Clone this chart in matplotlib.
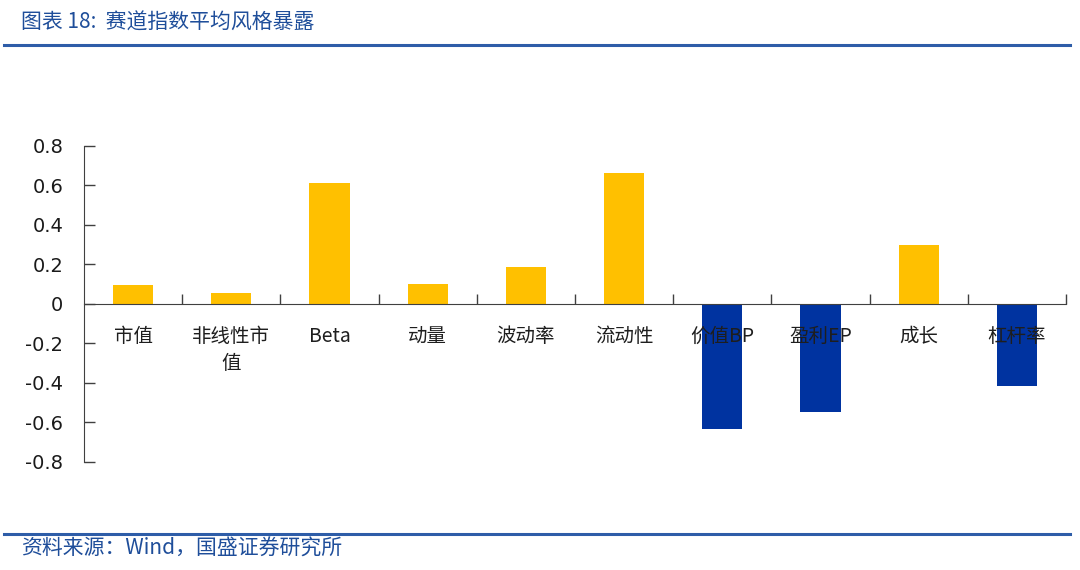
import matplotlib.pyplot as plt
import numpy as np

plt.rcParams['font.family'] = ['Noto Sans CJK SC', 'DejaVu Sans']

# 风格因子 & 平均暴露
categories = ['市值', '非线性市\n值', 'Beta', '动量', '波动率', '流动性', '价值BP', '盈利EP', '成长', '杠杆率']
exposure = [0.096, 0.057, 0.611, 0.101, 0.189, 0.662, -0.635, -0.547, 0.297, -0.414]
y_ticks = [0.8, 0.6, 0.4, 0.2, 0, -0.2, -0.4, -0.6, -0.8]
y_tick_labels = ['0.8', '0.6', '0.4', '0.2', '0', '-0.2', '-0.4', '-0.6', '-0.8']

yellow = '#FFC000'
blue = '#0033A0'
title_blue = '#1F4E9A'

fig = plt.figure(figsize=(10.8, 5.7), dpi=100)
ax = fig.add_axes([0.0778, 0.1895, 0.9092, 0.5544])
ax.set_axisbelow(False)

x = np.arange(len(categories))
colors = [yellow if v >= 0 else blue for v in exposure]
ax.bar(x, exposure, width=0.41, color=colors, zorder=1)

ax.set_xlim(-0.5, len(categories) - 0.5)
ax.set_ylim(-0.8, 0.8)
ax.set_yticks(y_ticks)
ax.set_yticklabels(y_tick_labels, family='DejaVu Sans', fontsize=14, color='#1a1a1a')
ax.tick_params(axis='y', direction='in', length=8, width=1, color='#404040', pad=15)

for side in ['top', 'right']:
    ax.spines[side].set_visible(False)
ax.spines['left'].set_color('#404040')
ax.spines['bottom'].set_color('#404040')
ax.spines['bottom'].set_position(('data', 0))

ax.set_xticks(x)
ax.set_xticklabels(categories, fontsize=14, color='#1e1e1e', linespacing=1.35, va='top')
ax.tick_params(axis='x', which='major', length=0, pad=16)
ax.set_xticks(np.arange(0.5, len(categories), 1.0), minor=True)
ax.tick_params(axis='x', which='minor', direction='in', length=7, width=1, color='#404040')

# header / footer
fig.text(0.019, 0.96, '图表 18:  赛道指数平均风格暴露', fontsize=15, color=title_blue,
         ha='left', va='center', style='italic')
fig.add_artist(plt.Line2D([0.004, 0.991], [0.921, 0.921], color='#2E5DA8', linewidth=2.2))
fig.add_artist(plt.Line2D([0.004, 0.991], [0.063, 0.063], color='#2E5DA8', linewidth=2.2))
fig.text(0.019, 0.037, '资料来源：Wind，国盛证券研究所', fontsize=15, color=title_blue,
         ha='left', va='center', style='italic')

fig.savefig('out.png', dpi=100)
